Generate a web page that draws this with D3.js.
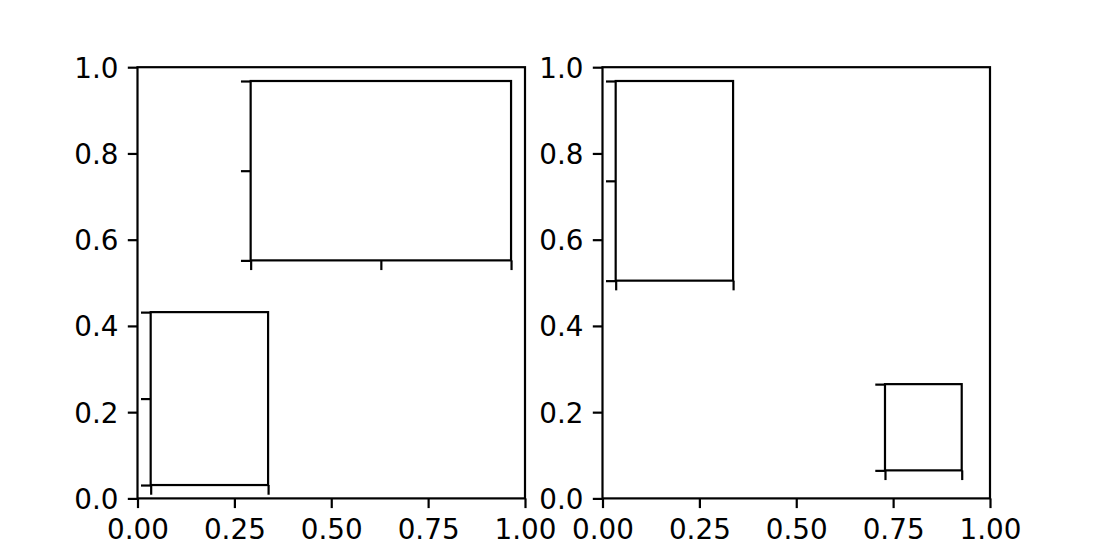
<!DOCTYPE html>
<html lang="en">
  <head>
    <meta charset="utf-8">
    <title>Inset axes</title>
    <style>
      body { margin: 0; background: #fff; }
      svg { display: block; }
    </style>
  </head>
  <body>
    <script src="https://cdn.jsdelivr.net/npm/d3@7"></script>
    <script>
      // main axes ticks
      var xTicks = [0, 0.25, 0.5, 0.75, 1];
      var yTicks = [0, 0.2, 0.4, 0.6, 0.8, 1];

      // inset boxes, in the parent axes' coordinates
      var insetPanel  = [0, 0, 1, 1];
      var insetLeft   = [0.292, 0.034, 0.034, 0.729];
      var insetBottom = [0.552, 0.031, 0.505, 0.065];
      var insetWidth  = [0.672, 0.303, 0.303, 0.198];
      var insetHeight = [0.416, 0.401, 0.463, 0.200];
      var insetXTicks = [[0, 0.5, 1], [0, 1], [0, 1], [0, 1]];
      var insetYTicks = [[0, 0.5, 1], [0, 0.5, 1], [0, 0.5, 1], [0, 1]];

      var width = 1100, height = 560;
      var lw = 2.2, tick = 9.7, fontSize = 27.8;
      var panels = [[137.5, 525], [602.5, 990]];
      var axTop = 67.2, axBottom = 498.4;

      var svg = d3.select("body").append("svg")
          .attr("width", width)
          .attr("height", height)
          .attr("viewBox", [0, 0, width, height])
          .style("font-family", "'DejaVu Sans', sans-serif");

      function styleAxis(g) {
        g.attr("font-family", null).attr("font-size", null);
        g.select(".domain").remove();
        g.selectAll(".tick line").attr("stroke", "#000").attr("stroke-width", lw);
        g.selectAll(".tick text").attr("fill", "#000").style("font-size", fontSize + "px");
      }

      panels.forEach(function (p, pi) {
        var x = d3.scaleLinear([0, 1], p);
        var y = d3.scaleLinear([0, 1], [axBottom, axTop]);
        var ax = svg.append("g");

        ax.append("g")
          .attr("transform", `translate(0,${axBottom})`)
          .call(d3.axisBottom(x).tickValues(xTicks).tickFormat(d3.format(".2f"))
                .tickSize(tick).tickPadding(11.5))
          .call(styleAxis);

        ax.append("g")
          .attr("transform", `translate(${p[0]},0)`)
          .call(d3.axisLeft(y).tickValues(yTicks).tickFormat(d3.format(".1f"))
                .tickSize(tick).tickPadding(9.3))
          .call(styleAxis)
          .call(g => g.selectAll(".tick text").attr("dy", "0.36em"));

        ax.append("rect")
          .attr("x", p[0]).attr("y", axTop)
          .attr("width", p[1] - p[0]).attr("height", axBottom - axTop)
          .attr("fill", "none").attr("stroke", "#000").attr("stroke-width", lw);

        // inset axes belonging to this panel
        d3.range(insetPanel.length).filter(i => insetPanel[i] === pi).forEach(function (i) {
          var ix = d3.scaleLinear([0, 1], [x(insetLeft[i]), x(insetLeft[i] + insetWidth[i])]);
          var iy = d3.scaleLinear([0, 1], [y(insetBottom[i]), y(insetBottom[i] + insetHeight[i])]);
          var ins = ax.append("g");

          ins.append("g")
            .attr("transform", `translate(0,${iy(0)})`)
            .call(d3.axisBottom(ix).tickValues(insetXTicks[i]).tickFormat("").tickSize(tick))
            .call(styleAxis);

          ins.append("g")
            .attr("transform", `translate(${ix(0)},0)`)
            .call(d3.axisLeft(iy).tickValues(insetYTicks[i]).tickFormat("").tickSize(tick))
            .call(styleAxis);

          ins.append("rect")
            .attr("x", ix(0)).attr("y", iy(1))
            .attr("width", ix(1) - ix(0)).attr("height", iy(0) - iy(1))
            .attr("fill", "none").attr("stroke", "#000").attr("stroke-width", lw);
        });
      });
    </script>
  </body>
</html>
